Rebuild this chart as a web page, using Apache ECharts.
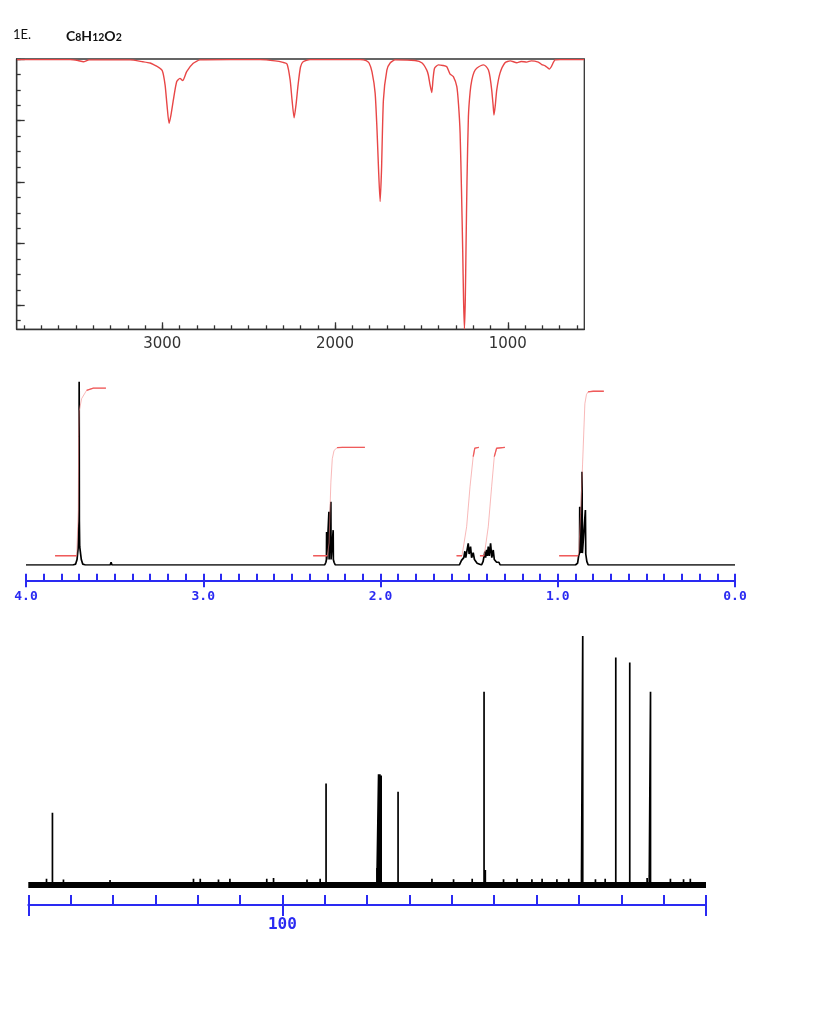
<!DOCTYPE html>
<html><head><meta charset="utf-8">
<script src="https://cdn.jsdelivr.net/npm/echarts@6/dist/echarts.min.js"></script>
<style>html,body{margin:0;padding:0;background:#fff}#c{width:817px;height:1024px}</style>
</head><body><div id="c"></div>
<script>
// ---------- IR spectrum (wavenumber cm-1, %T) ----------
const irWavenumber = [3841,3534,3488,3457,3424,3187,3112,3071,3048,3025,
  3000,2984,2973,2961,2950,2936,2917,2898,2882,2859,
  2821,2782,2608,2434,2347,2301,2278,2260,2249,2237,
  2226,2214,2200,2185,2145,1855,1820,1803,1786,1768,
  1757,1748,1739,1731,1720,1700,1681,1652,1537,1496,
  1469,1460,1450,1440,1433,1424,1402,1375,1353,1334,
  1315,1295,1285,1276,1268,1261,1256,1251,1246,1242,
  1236,1228,1218,1208,1195,1180,1141,1126,1112,1103,
  1093,1085,1080,1072,1064,1045,1016,986,948,923,
  890,865,823,803,784,770,759,749,726,697,558];
const irTransmittance = [99.8,99.8,99.5,99.1,99.7,99.7,99.1,98.7,98.1,97.4,
  96.2,91.6,85.1,79.1,81.8,86.7,92.6,93.7,93.0,95.9,
  98.6,99.7,99.8,99.8,99.4,98.9,98.4,93.2,86.7,80.9,
  85.1,91.6,97.4,99.1,99.8,99.8,99.5,98.7,95.8,89.0,
  76.9,63.9,53.7,63.9,86.7,96.4,98.7,99.7,99.5,98.7,
  96.4,94.8,91.6,89.1,93.2,97.0,98.1,97.9,97.5,95.1,
  94.3,91.0,85.1,76.0,57.5,38.0,21.7,12.3,21.7,38.0,
  60.7,81.2,89.3,93.2,95.8,97.0,98.1,97.6,96.4,94.2,
  89.9,85.1,81.8,85.1,89.9,95.4,98.8,99.4,98.8,99.2,
  99.0,99.4,99.0,98.2,97.8,97.2,96.7,97.4,99.7,99.8,99.8];
const irRange = [557, 3843];
const irTRange = [12.2, 100];
const irMajorTicks = [1000, 2000, 3000];
const irMinorTicks = [600,700,800,900,1000,1100,1200,1300,1400,1500,1600,1700,1800,1900,2000,
  2100,2200,2300,2400,2500,2600,2700,2800,2900,3000,3100,3200,3300,3400,3500,3600,3700,3800];
const irTMajorTicks = [20, 40, 60, 80, 100];
const irTMinorTicks = [15,20,25,30,35,40,45,50,55,60,65,70,75,80,85,90,95,100];

// ---------- 1H NMR (ppm, relative intensity) ----------
const h1Spectrum = [
  [4.00,0],
  [3.735,0],[3.720,0.5],[3.712,3],[3.706,9],[3.703,10],[3.701,24],[3.700,100],[3.699,24],[3.697,10],[3.694,9],[3.688,3],[3.680,0.5],[3.665,0],
  [3.525,0],[3.520,1.5],[3.515,0],
  [2.315,0],[2.308,1.5],[2.305,3],[2.304,18],[2.303,3],[2.292,3],[2.291,29],[2.290,3],[2.281,3],[2.280,34.5],[2.279,3],[2.268,3],[2.267,19],[2.266,3],[2.262,1.5],[2.255,0],
  [1.555,0],[1.548,1],[1.543,2.5],[1.538,3],[1.530,4],[1.524,7.5],[1.519,4],[1.512,5],[1.505,11.8],[1.500,6],[1.492,10],[1.486,4],[1.477,6.7],[1.470,3],[1.465,2],[1.462,2.4],[1.455,1],[1.448,0],
  [1.430,0],[1.425,1],[1.421,2],[1.416,3],[1.411,7.3],[1.407,4],[1.402,8.2],[1.397,5],[1.392,10],[1.386,5],[1.379,11.8],[1.372,4],[1.364,8.2],[1.358,3],[1.351,2.7],[1.345,1.5],[1.338,1],[1.332,1.5],[1.325,0],
  [0.900,0],[0.888,1],[0.882,5],[0.877,6.5],[0.876,31.8],[0.875,6.5],[0.870,28],[0.868,6.5],[0.863,50.9],[0.861,6.5],[0.852,6.5],[0.844,30],[0.842,6],[0.836,2],[0.828,0],
  [0.000,0]
];
const integralOCH3 = [[3.836,5.1],[3.714,5.1],[3.706,6],[3.705,30],[3.703,70],[3.700,84],[3.686,90.8],[3.658,95.3],[3.620,96.5],[3.549,96.5]];
const integralCH2a = [[2.380,5.1],[2.300,5.1],[2.290,12],[2.285,30],[2.280,45],[2.272,58],[2.262,62.5],[2.245,64],[2.215,64.2],[2.088,64.2]];
const integralCH2b = [[1.571,5.1],[1.540,5.1],[1.534,6],[1.514,20.9],[1.495,42.7],[1.477,59.1],[1.468,63.7],[1.445,64.2]];
const integralCH2c = [[1.439,5.1],[1.415,5.1],[1.411,6],[1.392,20.9],[1.373,42.7],[1.358,59.1],[1.345,63.7],[1.298,64.2]];
const integralCH3 = [[0.992,5.1],[0.885,5.1],[0.881,8],[0.870,30],[0.860,55],[0.847,88],[0.838,93],[0.829,94.5],[0.800,94.8],[0.740,94.8]];
const h1Range = [0, 4];
const h1MajorTicks = [0, 1, 2, 3, 4];
const h1MinorTicks = [0,0.1,0.2,0.3,0.4,0.5,0.6,0.7,0.8,0.9,1.0,1.1,1.2,1.3,1.4,1.5,1.6,1.7,1.8,1.9,2.0,
  2.1,2.2,2.3,2.4,2.5,2.6,2.7,2.8,2.9,3.0,3.1,3.2,3.3,3.4,3.5,3.6,3.7,3.8,3.9,4.0];

// ---------- 13C NMR (ppm, relative intensity) ----------
const c13Shift  = [154.3, 89.7, 77.3, 77.0, 76.7, 72.7, 52.4, 29.1, 21.3, 18.0, 13.1];
const c13Height = [29.0, 40.8, 44.5, 44.5, 44.0, 37.5, 77.6, 100, 91.4, 89.4, 77.6];
const c13Small = [[155.7,2.5],[151.7,2.2],[140.7,2],[121.0,2.5],[119.4,2.5],[115.1,2.2],[112.4,2.5],
  [103.7,2.5],[102.1,2.8],[94.2,2.2],[91.1,2.5],[77.7,6.8],[64.7,2.5],[59.6,2.3],[55.2,2.5],[52.1,6],
  [47.8,2.3],[44.6,2.5],[41.1,2.3],[38.7,2.5],[35.2,2.3],[32.4,2.5],[29.4,6],[26.1,2.3],[23.8,2.5],
  [17.7,-2.4],[13.9,2.8],[13.4,4],[8.4,2.5],[5.3,2.3],[3.7,2.5]];
const c13Range = [0, 160];
const c13MajorTicks = [0, 100, 160];
const c13LabelTicks = [100];
const c13MinorTicks = [0,10,20,30,40,50,60,70,80,90,100,110,120,130,140,150,160];

// ---------- build ----------
const BLUE = '#2a2af2';
const irData = irWavenumber.map((w, i) => [w, irTransmittance[i]]);
const sticks = [];
c13Shift.forEach((s, i) => sticks.push([s, c13Height[i]]));
c13Small.forEach(p => sticks.push(p));
sticks.sort((a, b) => b[0] - a[0]);
const c13Data = [];
sticks.forEach(p => { c13Data.push([p[0], 0], [p[0], p[1]], [p[0], 0]); });

function integralSeries(d) {
  // faint rising curve + solid flat ends
  return [
    { type: 'line', xAxisIndex: 2, yAxisIndex: 2, data: d, symbol: 'none', z: 4,
      lineStyle: { color: '#f48a8a', width: 1, opacity: 0.6 } },
    { type: 'line', xAxisIndex: 2, yAxisIndex: 2, data: d.slice(0, 2), symbol: 'none', z: 5,
      lineStyle: { color: '#ef5b5b', width: 1.5 } },
    { type: 'line', xAxisIndex: 2, yAxisIndex: 2, data: d.slice(-3), symbol: 'none', z: 5,
      lineStyle: { color: '#ef5b5b', width: 1.3 } }
  ];
}

const chart = echarts.init(document.getElementById('c'), null, { renderer: 'canvas' });
chart.setOption({
  backgroundColor: '#ffffff',
  animation: false,
  title: [
    { text: '1E.', left: 13, top: 28, padding: 0,
      textStyle: { fontFamily: 'Lato', fontSize: 13, fontWeight: 'normal', color: '#111' } },
    { text: '{b|C}{s|8}{b|H}{s|12}{b|O}{s|2}', left: 66, top: 27, padding: 0,
      textStyle: { rich: {
        b: { fontFamily: 'Lato', fontSize: 14, fontWeight: 'bold', color: '#111', lineHeight: 16, verticalAlign: 'bottom' },
        s: { fontFamily: 'Lato', fontSize: 10.5, fontWeight: 'bold', color: '#111', lineHeight: 10, verticalAlign: 'bottom' }
      } } }
  ],
  grid: [
    { left: 16.7, top: 59, width: 567.6, height: 270.3, show: true, borderColor: '#333', borderWidth: 1.3, backgroundColor: 'transparent' },
    { left: 26, top: 381.7, width: 709, height: 183.3 },
    { left: 28.3, top: 636, width: 677.7, height: 249 }
  ],
  xAxis: [
    { gridIndex: 0, type: 'value', position: 'bottom', min: irRange[0], max: irRange[1], inverse: true,
      axisLine: { show: true, onZero: false, lineStyle: { color: '#333', width: 1.3 } },
      axisTick: { show: true, inside: true, length: 7, customValues: irMajorTicks, lineStyle: { color: '#333', width: 1.3 } },
      axisLabel: { show: true, customValues: irMajorTicks, formatter: v => String(v), color: '#333', fontSize: 15, fontFamily: 'DejaVu Sans', margin: 7 },
      splitLine: { show: false } },
    { gridIndex: 0, type: 'value', position: 'bottom', min: irRange[0], max: irRange[1], inverse: true,
      axisLine: { show: false, onZero: false },
      axisTick: { show: true, inside: true, length: 4, customValues: irMinorTicks, lineStyle: { color: '#333', width: 1.3 } },
      axisLabel: { show: false }, splitLine: { show: false } },
    { gridIndex: 1, type: 'value', position: 'bottom', min: h1Range[0], max: h1Range[1], inverse: true, offset: 15.7,
      axisLine: { show: true, onZero: false, lineStyle: { color: BLUE, width: 2 } },
      axisTick: { show: true, inside: true, length: 7, customValues: h1MinorTicks, lineStyle: { color: BLUE, width: 2 } },
      axisLabel: { show: false }, splitLine: { show: false } },
    { gridIndex: 1, type: 'value', position: 'bottom', min: h1Range[0], max: h1Range[1], inverse: true, offset: 15.7,
      axisLine: { show: false, onZero: false },
      axisTick: { show: true, inside: false, length: 6.5, customValues: h1MajorTicks, lineStyle: { color: BLUE, width: 2 } },
      axisLabel: { show: true, customValues: h1MajorTicks, formatter: v => Number(v).toFixed(1), color: BLUE,
        fontFamily: 'DejaVu Sans Mono', fontSize: 13, fontWeight: 'bold', margin: 9 },
      splitLine: { show: false } },
    { gridIndex: 2, type: 'value', position: 'bottom', min: c13Range[0], max: c13Range[1], inverse: true, offset: 19.3,
      axisLine: { show: true, onZero: false, lineStyle: { color: BLUE, width: 2 } },
      axisTick: { show: true, inside: true, length: 9.3, customValues: c13MinorTicks, lineStyle: { color: BLUE, width: 2 } },
      axisLabel: { show: false }, splitLine: { show: false } },
    { gridIndex: 2, type: 'value', position: 'bottom', min: c13Range[0], max: c13Range[1], inverse: true, offset: 19.3,
      axisLine: { show: false, onZero: false },
      axisTick: { show: true, inside: false, length: 11.7, customValues: c13MajorTicks, lineStyle: { color: BLUE, width: 2 } },
      axisLabel: { show: true, customValues: c13LabelTicks, formatter: v => String(v), color: BLUE, fontFamily: 'DejaVu Sans Mono', fontSize: 16, fontWeight: 'bold', margin: 13 },
      splitLine: { show: false } }
  ],
  yAxis: [
    { gridIndex: 0, type: 'value', position: 'left', min: irTRange[0], max: irTRange[1],
      axisLine: { show: true, onZero: false, lineStyle: { color: '#333', width: 1.3 } },
      axisTick: { show: true, inside: true, length: 8, customValues: irTMajorTicks, lineStyle: { color: '#333', width: 1.3 } },
      axisLabel: { show: false }, splitLine: { show: false } },
    { gridIndex: 0, type: 'value', position: 'left', min: irTRange[0], max: irTRange[1],
      axisLine: { show: false, onZero: false },
      axisTick: { show: true, inside: true, length: 4, customValues: irTMinorTicks, lineStyle: { color: '#333', width: 1.3 } },
      axisLabel: { show: false }, splitLine: { show: false } },
    { gridIndex: 1, type: 'value', min: 0, max: 100, show: false },
    { gridIndex: 2, type: 'value', min: 0, max: 100, show: false }
  ],
  series: [
    { type: 'line', xAxisIndex: 0, yAxisIndex: 0, data: irData, symbol: 'none', smooth: 0.2, z: 3,
      lineStyle: { color: '#e84646', width: 1.4 } },
    { type: 'line', xAxisIndex: 2, yAxisIndex: 2, data: h1Spectrum, symbol: 'none', z: 3,
      lineStyle: { color: '#000', width: 1.7 } },
    ...integralSeries(integralOCH3),
    ...integralSeries(integralCH2a),
    ...integralSeries(integralCH2b),
    ...integralSeries(integralCH2c),
    ...integralSeries(integralCH3),
    { type: 'line', xAxisIndex: 4, yAxisIndex: 3, data: [[c13Range[1], 0], [c13Range[0], 0]], symbol: 'none', z: 2,
      lineStyle: { color: '#000', width: 6 } },
    { type: 'line', xAxisIndex: 4, yAxisIndex: 3, data: c13Data, symbol: 'none', z: 3,
      lineStyle: { color: '#000', width: 1.7 } }
  ]
});
</script>
</body></html>
